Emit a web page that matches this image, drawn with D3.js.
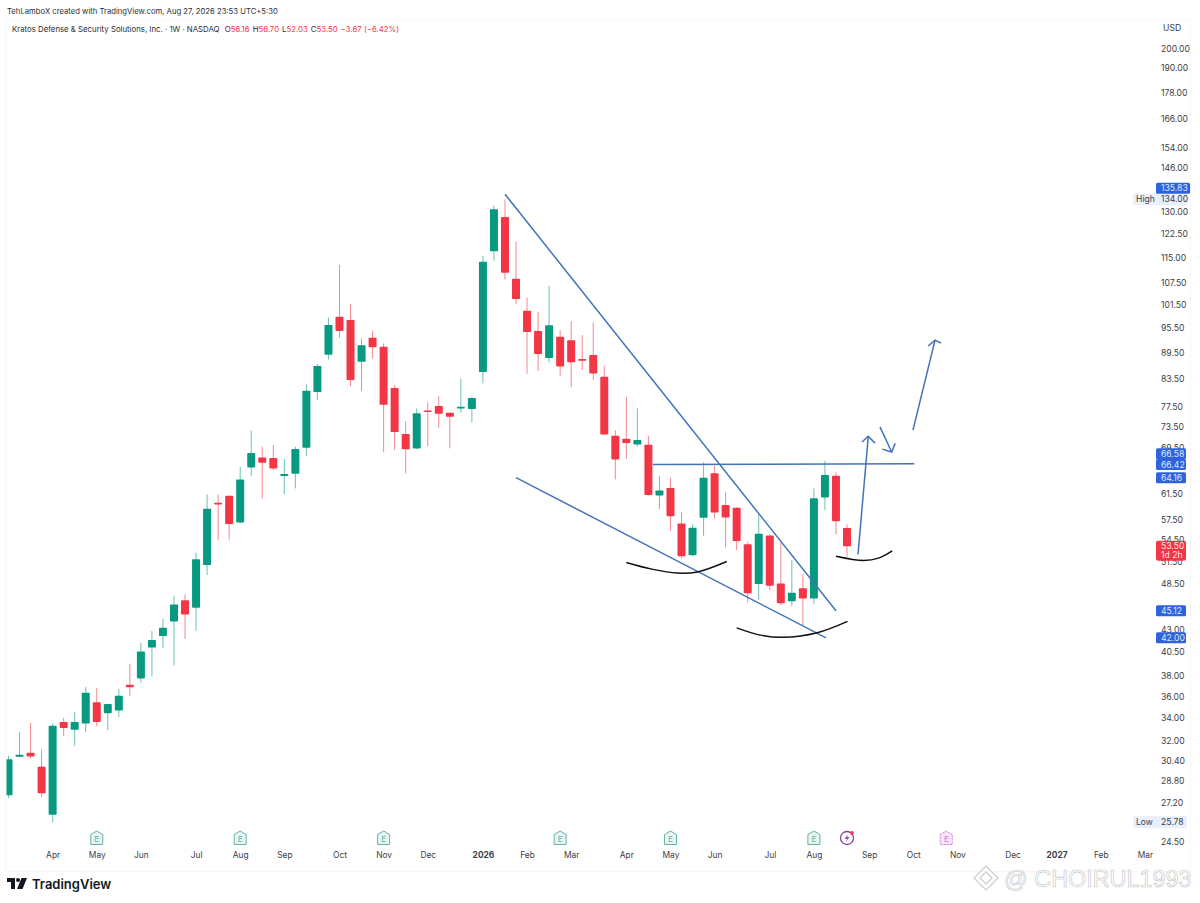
<!DOCTYPE html>
<html>
<head>
<meta charset="utf-8">
<script src="https://cdn.jsdelivr.net/npm/d3@7"></script>
<style>
html,body{margin:0;padding:0;background:#fff;}
svg{display:block;font-family:Inter,Roboto,sans-serif;}
.axis path,.axis line{display:none;}
</style>
</head>
<body>
<svg id="chart"></svg>
<script>
// weekly candles
var opens  = [27.69,30.66,30.99,29.85,26.29,33.62,32.92,33.48,35.42,34.41,34.65,37.09,37.72,40.94,42.19,43.86,46.40,45.47,50.91,60.03,61.15,56.99,65.93,67.69,67.57,64.43,64.83,69.44,80.47,88.83,98.22,97.36,87.19,92.91,90.72,81.32,72.01,69.33,76.66,77.54,76.18,77.07,76.92,84.84,116.79,127.88,108.61,99.78,94.57,88.05,93.15,92.27,87.81,88.75,83.78,71.69,71.11,70.06,69.99,61.22,62.41,56.84,52.27,57.69,64.90,59.67,59.24,53.78,48.41,55.07,48.50,46.28,47.87,46.61,60.90,64.48,56.16];
var highs  = [30.73,32.72,33.53,31.28,33.51,33.98,34.53,36.86,36.77,35.24,36.67,39.17,41.45,42.75,44.13,46.94,47.11,52.59,61.38,61.38,61.15,66.03,72.71,69.63,69.95,67.39,69.63,82.13,86.67,97.96,112.63,101.50,92.76,94.65,91.54,81.97,74.52,77.07,78.31,79.69,76.18,83.43,79.48,115.32,131.76,134.00,119.77,103.39,99.52,106.53,94.82,97.10,93.58,96.78,86.27,72.77,79.48,77.07,71.69,64.48,64.14,58.53,56.69,66.79,66.21,61.71,59.35,54.15,58.22,55.21,54.06,51.58,49.71,62.36,67.09,65.07,56.70];
var lows   = [27.47,30.62,30.54,27.55,25.78,32.40,31.56,32.72,33.24,32.89,34.07,35.99,37.32,37.95,40.87,39.04,41.88,42.78,49.58,54.39,54.49,56.89,64.48,60.74,65.46,61.43,62.36,67.99,78.78,87.74,92.91,81.76,80.74,87.88,68.71,69.02,64.90,69.20,69.76,73.16,69.33,76.18,74.27,82.34,113.91,108.43,101.64,84.46,85.06,87.05,84.02,81.47,85.29,83.06,71.82,63.87,67.39,69.63,61.19,59.04,55.74,51.82,52.13,55.02,57.60,53.35,52.97,46.07,46.40,47.65,45.79,45.67,43.42,45.94,58.88,55.26,52.03];
var closes = [30.46,30.83,30.68,27.84,33.27,33.09,33.62,36.31,33.62,35.24,36.02,36.86,40.51,41.77,43.12,45.88,44.68,51.72,59.08,59.78,56.74,63.87,68.47,66.74,65.75,64.78,69.20,80.74,86.21,96.09,94.57,83.06,91.06,90.58,77.81,72.39,69.15,76.06,76.52,75.98,75.38,77.40,79.20,113.61,130.50,110.34,102.93,94.32,88.97,96.02,86.13,87.05,87.51,84.55,71.93,67.34,70.31,70.87,61.27,62.03,57.95,52.13,56.18,64.14,58.53,57.76,54.25,47.24,55.30,48.19,46.03,47.31,46.61,60.78,64.60,57.19,53.50];

// axes
var priceTicks = [200,190,178,166,154,146,130,122.5,115,107.5,101.5,95.5,89.5,83.5,77.5,73.5,69.5,61.5,57.5,54.5,51.5,48.5,43,40.5,38,36,34,32,30.4,28.8,27.2,24.5];
var monthIdx = [4,8,12,17,21,25,30,34,38,43,47,51,56,60,64,69,73,78,82,86,91,95,99,103];
var monthLabels = ["Apr","May","Jun","Jul","Aug","Sep","Oct","Nov","Dec","2026","Feb","Mar","Apr","May","Jun","Jul","Aug","Sep","Oct","Nov","Dec","2027","Feb","Mar"];

// price tags on the right
var tagPrices = [135.83,66.58,66.42,64.16,45.12,42.00];
var extremePrices = [134.00,25.78];
var extremeLabels = ["High","Low"];
var lastPrice = 53.50;

// event markers under the candles
var earningsIdx = [8,21,34,50,60,73];
var futureEarningsIdx = [85];
var dividendIdx = [76];

// hand drawn lines, as [week index, price]
var upperLine = [[45.0,135.83],[75.0,45.12]];
var lowerLine = [[46.0,64.16],[74.1,42.00]];
var neckLine = [[58.4,66.42],[82.1,66.58]];
var arrowUp = [[77.0,52.37],[77.93,71.6]];
var arrowUpHead = [[77.36,70.5],[77.93,71.6],[78.54,70.3]];
var arrowDown = [[78.99,73.4],[80.05,68.66]];
var arrowDownHead = [[79.2,69.2],[80.05,68.66],[80.37,70.25]];
var arrowLast = [[81.98,72.77],[83.98,92.34]];
var arrowLastHead = [[83.35,90.9],[83.98,92.34],[84.53,91.6]];
var arcLeft = [[56.0,51.27],[58.3,50.37],[60.6,49.84],[62.45,50.0],[65.1,51.4]];
var arcBottom = [[66.0,43.12],[68.15,42.3],[70.25,42.05],[73.3,42.56],[76.05,43.86]];
var arcRight = [[75.0,52.13],[77.5,51.54],[78.85,51.86],[80.1,52.87]];

var svgWidth = 1200;
var svgHeight = 903;
var up = "#089981";
var down = "#f23645";
var blue = "#4272b8";
var tagBlue = "#2f63dd";
var textColor = "#3b3e47";

var svg = d3.select("#chart").attr("width",svgWidth).attr("height",svgHeight);

var x = d3.scaleLinear().domain([0,76]).range([8.5,847]);
var y = d3.scaleLog().domain([200,24.5]).range([48,841.5]);

// frame of the pane
svg.append("rect").attr("x",5.5).attr("y",19.5).attr("width",1185).attr("height",852)
    .attr("fill","none").attr("stroke","#f7f7f7");

svg.append("clipPath").attr("id","pane").append("rect")
    .attr("x",6.5).attr("y",20).attr("width",1146).attr("height",850);

var plot = svg.append("g").attr("clip-path","url(#pane)");
var weeks = d3.range(opens.length);
var candleColor = function(i){ return closes[i] >= opens[i] ? up : down; };

// wicks
plot.selectAll("line.wick").data(weeks).enter().append("line")
    .attr("class","wick")
    .attr("x1",function(i){return x(i);})
    .attr("x2",function(i){return x(i);})
    .attr("y1",function(i){return y(highs[i]);})
    .attr("y2",function(i){return y(lows[i]);})
    .attr("stroke",candleColor)
    .attr("stroke-opacity",0.6)
    .attr("stroke-width",1);

// bodies
plot.selectAll("rect.body").data(weeks).enter().append("rect")
    .attr("class","body")
    .attr("x",function(i){return x(i)-4;})
    .attr("width",8)
    .attr("y",function(i){return y(Math.max(opens[i],closes[i]));})
    .attr("height",function(i){return Math.max(1.6,Math.abs(y(opens[i])-y(closes[i])));})
    .attr("rx",0.8)
    .attr("fill",candleColor);

// drawings
var line = d3.line().x(function(d){return x(d[0]);}).y(function(d){return y(d[1]);});
var arc = d3.line().x(function(d){return x(d[0]);}).y(function(d){return y(d[1]);}).curve(d3.curveCatmullRom);

plot.selectAll("path.draw")
    .data([upperLine,lowerLine,neckLine,arrowUp,arrowUpHead,arrowDown,arrowDownHead,arrowLast,arrowLastHead])
    .enter().append("path")
    .attr("class","draw")
    .attr("d",line)
    .attr("fill","none")
    .attr("stroke",blue)
    .attr("stroke-width",1.5);

plot.selectAll("path.arc")
    .data([arcLeft,arcBottom,arcRight])
    .enter().append("path")
    .attr("class","arc")
    .attr("d",arc)
    .attr("fill","none")
    .attr("stroke","#111")
    .attr("stroke-width",1.5);

// price axis
var yAxis = svg.append("g").attr("class","axis")
    .attr("transform","translate(1158,0.5)")
    .call(d3.axisRight(y).tickValues(priceTicks).tickSize(0).tickFormat(d3.format(".2f")));
yAxis.selectAll("text").attr("x",3).attr("fill",textColor).style("font-size","8.6px").style("font-family","Inter");

svg.append("text").attr("x",1163).attr("y",31).attr("fill",textColor)
    .style("font-size","8.6px").text("USD");

// High / Low labels
var extreme = svg.selectAll("g.extreme").data(extremePrices).enter().append("g").attr("class","extreme")
    .attr("transform",function(d){return "translate(0,"+y(d)+")";});
extreme.append("rect").attr("x",1133).attr("y",-6).attr("width",54).attr("height",12).attr("rx",2).attr("fill","#e9effb");
extreme.append("text").attr("x",1136).attr("y",3).attr("fill",textColor).style("font-size","8.6px")
    .text(function(d,i){return extremeLabels[i];});
extreme.append("text").attr("x",1161).attr("y",3).attr("fill",textColor).style("font-size","8.6px")
    .text(function(d){return d3.format(".2f")(d);});

// blue tags; 135.83 and 66.58 are pushed up to clear their neighbours
var tagShift = function(d){ return d==135.83 ? -6 : d==66.58 ? -10 : 0; };
var tag = svg.selectAll("g.tag").data(tagPrices).enter().append("g").attr("class","tag")
    .attr("transform",function(d){return "translate(0,"+(y(d)+tagShift(d))+")";});
tag.append("rect").attr("x",1156).attr("y",-5.5).attr("width",function(d){return d==135.83?34:30;}).attr("height",11).attr("rx",1.5).attr("fill",tagBlue);
tag.append("text").attr("x",1161).attr("y",3).attr("fill","#dfe8ff").style("font-size","8.6px")
    .text(function(d){return d3.format(".2f")(d);});

// last price tag
var last = svg.append("g").attr("transform","translate(0,"+y(lastPrice)+")");
last.append("rect").attr("x",1156).attr("y",-5.5).attr("width",30).attr("height",20).attr("rx",2).attr("fill",down);
last.append("text").attr("x",1161).attr("y",3).attr("fill","#ffe3e6").style("font-size","8.6px").text(d3.format(".2f")(lastPrice));
last.append("text").attr("x",1161).attr("y",12).attr("fill","#ffe3e6").style("font-size","8.6px").text("1d 2h");

// time axis
var xAxis = svg.append("g").attr("class","axis")
    .attr("transform","translate(0,849)")
    .call(d3.axisBottom(x).tickValues(monthIdx).tickSize(0).tickFormat(function(d,i){return monthLabels[i];}));
xAxis.selectAll("text").attr("fill",textColor).style("font-size","8.4px").style("font-family","Inter")
    .style("font-weight",function(d,i){return /^20/.test(monthLabels[i])?"700":"400";});

// earnings markers
function houseIcon(g,stroke,fill,dash){
    g.append("path").attr("d","M-6,-3.5L0,-7L6,-3.5L6,6.5L-6,6.5Z")
        .attr("fill",fill).attr("stroke",stroke).attr("stroke-width",1).attr("stroke-dasharray",dash);
    g.append("text").attr("text-anchor","middle").attr("y",3.5).attr("fill",stroke)
        .style("font-size","8px").text("E");
}
var markerY = 838;
svg.selectAll("g.earn").data(earningsIdx).enter().append("g").attr("class","earn")
    .attr("transform",function(d){return "translate("+x(d)+","+markerY+")";})
    .each(function(){ houseIcon(d3.select(this),"#5fb5a6","#e8f5f2","none"); });
svg.selectAll("g.earnf").data(futureEarningsIdx).enter().append("g").attr("class","earnf")
    .attr("transform",function(d){return "translate("+x(d)+","+markerY+")";})
    .each(function(){ houseIcon(d3.select(this),"#cf7ddb","#f8e6fb","2,1"); });

var bolt = svg.selectAll("g.bolt").data(dividendIdx).enter().append("g").attr("class","bolt")
    .attr("transform",function(d){return "translate("+x(d)+","+markerY+")";});
bolt.append("circle").attr("r",6.5).attr("fill","#fff").attr("stroke","#8e3fa8").attr("stroke-width",1.3);
bolt.append("path").attr("d","M1.5,-4L-2.5,0.8L0,0.8L-1.5,4L2.5,-1L0,-1Z").attr("fill","#8e3fa8");
bolt.append("circle").attr("cx",5).attr("cy",-5).attr("r",1.9).attr("fill",down);

// header
svg.append("text").attr("x",7).attr("y",14).attr("fill","#2a2e39").style("font-size","7.7px")
    .text("TehLamboX created with TradingView.com, Aug 27, 2026 23:53 UTC+5:30");
var head = svg.append("text").attr("x",12).attr("y",32).attr("fill","#2a2e39").style("font-size","7.8px");
head.append("tspan").text("Kratos Defense & Security Solutions, Inc. · 1W · NASDAQ  ");
[["O","56.16"],["H","56.70"],["L","52.03"],["C","53.50"]].forEach(function(p){
    head.append("tspan").attr("dx",3).text(p[0]);
    head.append("tspan").attr("fill",down).text(p[1]);
});
head.append("tspan").attr("dx",3).attr("fill",down).text("−3.67 (−6.42%)");

// TradingView logo
var logo = svg.append("g").attr("transform","translate(7,878)");
logo.append("path").attr("d","M0,0H8V11H4V4H0Z").attr("fill","#131722");
logo.append("circle").attr("cx",11).attr("cy",2).attr("r",2).attr("fill","#131722");
logo.append("path").attr("d","M14.5,0H20L15.5,11H10Z").attr("fill","#131722");
svg.append("text").attr("x",32).attr("y",889).attr("fill","#131722")
    .style("font-size","13px").style("font-weight","600").text("TradingView");

// watermark
var mark = svg.append("g").attr("transform","translate(986,878)");
mark.append("path").attr("d","M0,-12L12,0L0,12L-12,0Z").attr("fill","none").attr("stroke","#d4d4d4").attr("stroke-width",1.5);
mark.append("path").attr("d","M0,-6L6,0L0,6L-6,0Z").attr("fill","none").attr("stroke","#d4d4d4").attr("stroke-width",1.5);
svg.append("text").attr("x",1004).attr("y",887).attr("fill","#fff").attr("stroke","#c4c4c4").attr("stroke-width",0.6)
    .style("font-size","23.4px").style("font-family","Liberation Sans").text("@ CHOIRUL1993");
</script>
</body>
</html>
